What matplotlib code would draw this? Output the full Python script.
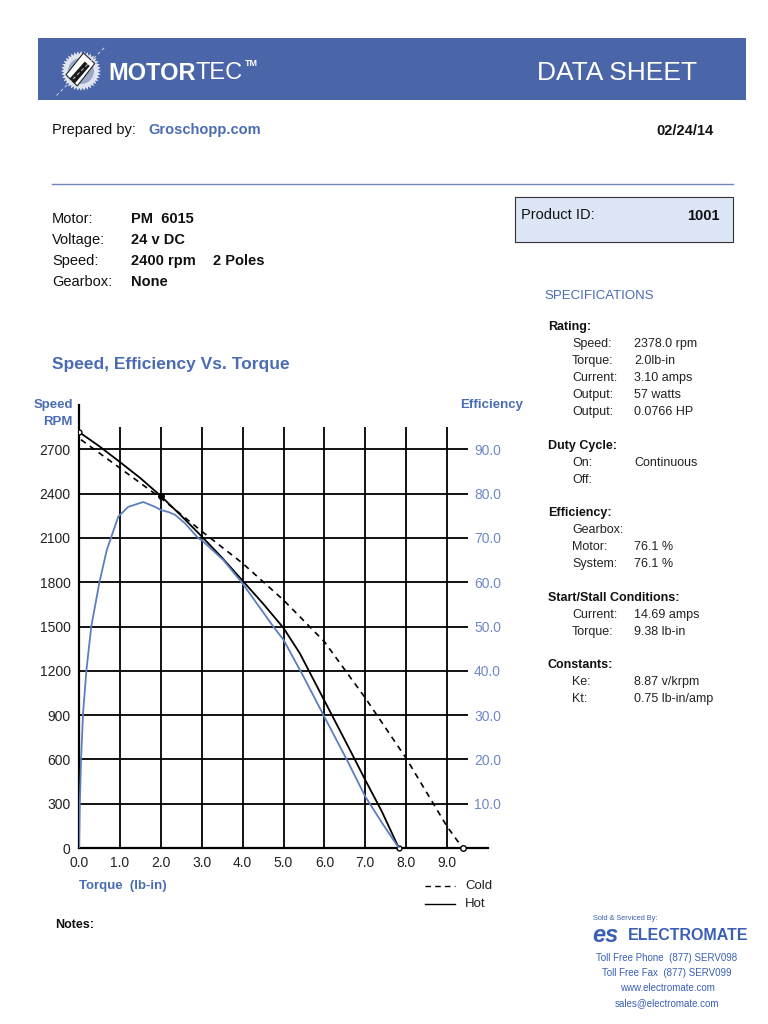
import math
import matplotlib
matplotlib.use("Agg")
import matplotlib.pyplot as plt
from matplotlib.patches import Rectangle, Circle, Polygon
from matplotlib.lines import Line2D

plt.rcParams['font.family'] = ['Liberation Sans', 'DejaVu Sans']

# ---------------- data ----------------
hot_torque = [0.0, 0.5, 1.0, 1.5, 2.0, 2.5, 3.0, 3.5, 4.0, 4.5, 5.0, 5.4, 5.97, 6.5, 6.75, 7.0, 7.4, 7.82]
hot_speed = [2817, 2720, 2614, 2505, 2384, 2250, 2110, 1965, 1810, 1655, 1490, 1318, 1014, 731, 596, 460, 250, 0]

cold_torque = [0.05, 1.0, 2.0, 3.0, 4.0, 5.0, 6.0, 7.0, 7.56, 8.0, 9.0, 9.38]
cold_speed = [2765, 2573, 2370, 2145, 1928, 1679, 1397, 1016, 787, 607, 145, 0]

eff_torque = [0.0, 0.02, 0.05, 0.1, 0.18, 0.3, 0.5, 0.68, 0.96, 1.2, 1.57, 1.86, 2.0, 2.2, 2.35,
              2.59, 2.92, 3.0, 3.53, 4.0, 4.75, 5.0, 5.5, 6.0, 6.55, 7.0, 7.4, 7.82]
eff_pct = [0.0, 10.0, 20.0, 30.5, 40.0, 50.0, 60.0, 67.3, 74.8, 77.0, 78.1, 77.0, 76.3, 75.8, 75.2,
           73.3, 69.9, 69.5, 65.0, 59.7, 50.0, 47.0, 38.5, 29.6, 19.9, 11.6, 5.8, 0.0]

speed_ticks = [0, 300, 600, 900, 1200, 1500, 1800, 2100, 2400, 2700]
eff_ticks = [10, 20, 30, 40, 50, 60, 70, 80, 90]
torque_ticks = [0, 1, 2, 3, 4, 5, 6, 7, 8, 9]

rating_point = (2.0, 2384)
stall_hot = 7.82
stall_cold = 9.38

specs = [
    ("Rating:", [("Speed:", "2378.0 rpm"), ("Torque:", "2.0lb-in"), ("Current:", "3.10 amps"),
                 ("Output:", "57 watts"), ("Output:", "0.0766 HP")]),
    ("Duty Cycle:", [("On:", "Continuous"), ("Off:", "")]),
    ("Efficiency:", [("Gearbox:", ""), ("Motor:", "76.1 %"), ("System:", "76.1 %")]),
    ("Start/Stall Conditions:", [("Current:", "14.69 amps"), ("Torque:", "9.38 lb-in")]),
    ("Constants:", [("Ke:", "8.87 v/krpm"), ("Kt:", "0.75 lb-in/amp")]),
]
spec_y = [327, 446, 513, 598, 665]

motor_info = [("Motor:", "PM  6015"), ("Voltage:", "24 v DC"), ("Speed:", "2400 rpm"), ("Gearbox:", "None")]

contact_lines = ["Toll Free Phone  (877) SERV098", "Toll Free Fax  (877) SERV099",
                 "www.electromate.com", "sales@electromate.com"]

# ---------------- figure ----------------
W, H = 768, 1024
fig = plt.figure(figsize=(W / 100, H / 100), dpi=100)
fig.patch.set_facecolor('white')

BLUE = '#4a66a8'
TXTBLUE = '#4a6cb3'
EFFBLUE = '#5a7fc0'
EMBLUE = '#3a5fb5'


def P(x, y):
    return (x / W, 1 - y / H)


def ftext(x, y, s, **kw):
    kw.setdefault('va', 'center')
    kw.setdefault('zorder', 5)
    return fig.text(*P(x, y), s, **kw)


# header band
fig.patches.append(Rectangle(P(38, 100), (746 - 38) / W, 62 / H, transform=fig.transFigure,
                             facecolor=BLUE, edgecolor='none', zorder=-2))

# logo icon (gear with motor)
lg = fig.add_axes([56 / W, 1 - 96 / H, 50 / W, 50 / H], zorder=3)
lg.set_xlim(-1, 1); lg.set_ylim(-1, 1); lg.axis('off')
lg.patch.set_visible(False)
teeth = []
for i in range(72):
    a = 2 * math.pi * i / 72
    r = 0.8 if i % 2 == 0 else 0.68
    teeth.append((r * math.cos(a), r * math.sin(a)))
lg.add_patch(Polygon(teeth, closed=True, facecolor='#dfe4ef', edgecolor='none'))
lg.add_patch(Circle((0, 0), 0.52, facecolor='#9aa8c8', edgecolor='none'))
lg.add_patch(Polygon([(-0.6, -0.15), (-0.15, -0.6), (0.55, 0.3), (0.1, 0.72)], closed=True,
                     facecolor='white', edgecolor='#222222', lw=0.8))
lg.add_patch(Polygon([(-0.45, -0.3), (-0.25, -0.5), (0.35, 0.2), (0.15, 0.38)], closed=True,
                     facecolor='#1a1a1a', edgecolor='none'))
lg.plot([-0.98, 0.98], [-0.98, 0.98], color='#dfe4ef', lw=0.6, ls=(0, (4, 3)))

ftext(108, 73, "MOTOR", color='white', fontsize=17, fontweight='bold')
ftext(195, 73, "TEC", color='white', fontsize=17)
ftext(245, 64, "TM", color='white', fontsize=6.5, fontweight='bold')
ftext(537, 73, "DATA SHEET", color='white', fontsize=19)

# prepared by
ftext(52, 130, "Prepared by:", fontsize=10.5, color='#111111')
ftext(148, 130, "Groschopp.com", fontsize=10.5, color=TXTBLUE, fontweight='bold')
ftext(714, 131, "02/24/14", fontsize=10.5, color='#111111', fontweight='bold', ha='right')
fig.lines.append(Line2D([52 / W, 733 / W], [1 - 184 / H] * 2, transform=fig.transFigure,
                        color='#6f86bd', lw=1.0))

# motor info
for i, (lab, val) in enumerate(motor_info):
    y = 219 + 21 * i
    ftext(52, y, lab, fontsize=10.5, color='#111111')
    ftext(131, y, val, fontsize=10.5, color='#111111', fontweight='bold')
ftext(213, 261, "2 Poles", fontsize=10.5, color='#111111', fontweight='bold')

# product id box
fig.patches.append(Rectangle(P(515, 242), (733 - 515) / W, 45 / H, transform=fig.transFigure,
                             facecolor='#dce6f6', edgecolor='#333333', lw=0.8, zorder=-1))
ftext(521, 215, "Product ID:", fontsize=10.5, color='#111111')
ftext(720, 216, "1001", fontsize=10.5, color='#111111', fontweight='bold', ha='right')

# specifications
ftext(544, 296, "SPECIFICATIONS", fontsize=9.5, color=TXTBLUE)
for (head, items), y0 in zip(specs, spec_y):
    ftext(548, y0, head, fontsize=9, color='#111111', fontweight='bold')
    for j, (lab, val) in enumerate(items):
        y = y0 + 17 * (j + 1)
        ftext(572, y, lab, fontsize=9, color='#222222')
        ftext(634, y, val, fontsize=9, color='#222222')

# chart title
ftext(52, 365, "Speed, Efficiency Vs. Torque", fontsize=12.5, color=TXTBLUE, fontweight='bold')
ftext(73, 405, "Speed", fontsize=9.5, color=TXTBLUE, fontweight='bold', ha='right')
ftext(73, 422, "RPM", fontsize=9.5, color=TXTBLUE, fontweight='bold', ha='right')
ftext(460, 405, "Efficiency", fontsize=9.5, color=TXTBLUE, fontweight='bold')

# ---------------- chart ----------------
ax = fig.add_axes([79 / W, 1 - 848 / H, (488 - 79) / W, (848 - 405) / H])
ax.set_xlim(0, 10)
ax.set_ylim(0, 3000)
ax.set_facecolor('none')
for s in ['top', 'right']:
    ax.spines[s].set_visible(False)
ax.spines['left'].set_linewidth(1.6)
ax.spines['bottom'].set_linewidth(1.6)
ax.set_xticks(torque_ticks)
ax.set_xticklabels([f"{t:.1f}" for t in torque_ticks], fontsize=10, color='#222222')
ax.set_yticks(speed_ticks)
ax.set_yticklabels([str(v) for v in speed_ticks], fontsize=10, color='#222222')
ax.tick_params(length=0, pad=6)

# grid
ax.hlines(speed_ticks[1:], 0, 9.5, colors='black', lw=1.3, zorder=1)
ax.vlines(torque_ticks[1:], 0, 2850, colors='black', lw=1.3, zorder=1)

# efficiency secondary axis (same scale: 100% = 3000 rpm)
ax2 = ax.twinx()
ax2.set_ylim(0, 100)
for s in ax2.spines.values():
    s.set_visible(False)
ax2.set_yticks(eff_ticks)
ax2.set_yticklabels([f"{v:.1f}" for v in eff_ticks], fontsize=10, color='#6f88c6')
ax2.tick_params(axis='y', length=0, pad=-10)

ax2.plot(eff_torque, eff_pct, color=EFFBLUE, lw=1.3, zorder=3)
ax.plot(cold_torque, cold_speed, color='black', lw=1.2, ls=(0, (3.5, 3)), zorder=4)
ax.plot(hot_torque, hot_speed, color='black', lw=1.3, zorder=4)
ax.plot([rating_point[0]], [rating_point[1]], 'o', color='black', ms=4, zorder=5)
ax.plot([hot_torque[0]], [hot_speed[0]], 'o', mfc='white', mec='black', ms=3.5, zorder=5)
ax.plot([stall_hot], [0], 'o', mfc='white', mec='black', ms=3.5, zorder=5, clip_on=False)
ax.plot([stall_cold], [0], 'o', mfc='white', mec='black', ms=4, zorder=5, clip_on=False)

# axis label and legend
ftext(79, 886, "Torque  (lb-in)", fontsize=9.5, color=TXTBLUE, fontweight='bold')
fig.lines.append(Line2D([425 / W, 455 / W], [1 - 886 / H] * 2, transform=fig.transFigure,
                        color='black', lw=1.0, ls=(0, (4, 3))))
fig.lines.append(Line2D([425 / W, 455 / W], [1 - 904 / H] * 2, transform=fig.transFigure,
                        color='black', lw=1.0))
ftext(465, 886, "Cold", fontsize=9.5, color='#222222')
ftext(465, 904, "Hot", fontsize=9.5, color='#222222')

ftext(55, 925, "Notes:", fontsize=9, color='#111111', fontweight='bold')

# electromate block
ftext(593, 918, "Sold & Serviced By:", fontsize=5.3, color=EMBLUE)
ftext(592, 935, "es", fontsize=17, color=EMBLUE, fontweight='bold', style='italic')
ftext(628, 936, "ELECTROMATE", fontsize=11.5, color=EMBLUE, fontweight='bold')
for i, line in enumerate(contact_lines):
    ftext(667, 958 + 15 * i, line, fontsize=7, color=EMBLUE, ha='center')

fig.savefig("out.png", dpi=100)
